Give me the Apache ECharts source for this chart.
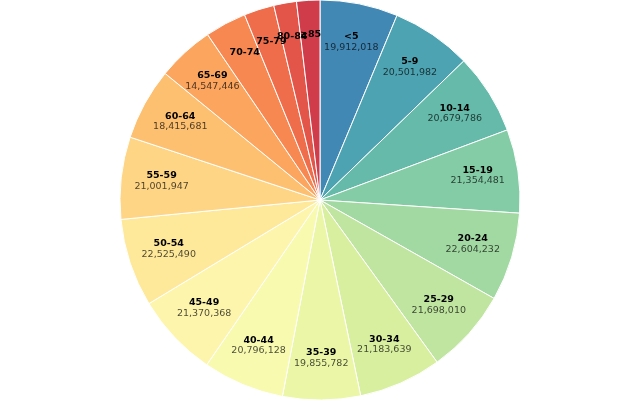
<!DOCTYPE html>
<html>
<head>
<meta charset="utf-8">
<script src="https://cdn.jsdelivr.net/npm/echarts@6/dist/echarts.min.js"></script>
<style>
  html, body { margin: 0; padding: 0; background: #fff; }
  #main { width: 640px; height: 400px; }
</style>
</head>
<body>
<div id="main"></div>
<script>
// population by age group
var ageGroups = ["<5", "5-9", "10-14", "15-19", "20-24", "25-29", "30-34", "35-39", "40-44",
  "45-49", "50-54", "55-59", "60-64", "65-69", "70-74", "75-79", "80-84", "≥85"];
var population = [19912018, 20501982, 20679786, 21354481, 22604232, 21698010, 21183639, 19855782, 20796128,
  21370368, 22525490, 21001947, 18415681, 14547446, 10587721, 7730129, 5811429, 5938752];

// spectral ramp, basis-interpolated like d3
var spectral = ["9e0142", "d53e4f", "f46d43", "fdae61", "fee08b", "ffffbf", "e6f598", "abdda4", "66c2a5", "3288bd", "5e4fa2"];

function basis(t1, v0, v1, v2, v3) {
  var t2 = t1 * t1, t3 = t2 * t1;
  return ((1 - 3 * t1 + 3 * t2 - t3) * v0 + (4 - 6 * t2 + 3 * t3) * v1
    + (1 + 3 * t1 + 3 * t2 - 3 * t3) * v2 + t3 * v3) / 6;
}
function channel(values, t) {
  var n = values.length - 1;
  var i = t <= 0 ? (t = 0) : t >= 1 ? (t = 1, n - 1) : Math.floor(t * n);
  var v1 = values[i], v2 = values[i + 1];
  var v0 = i > 0 ? values[i - 1] : 2 * v1 - v2;
  var v3 = i < n - 1 ? values[i + 2] : 2 * v2 - v1;
  return basis((t - i / n) * n, v0, v1, v2, v3);
}
function spectralAt(t) {
  var rgb = [0, 1, 2].map(function (c) {
    var vals = spectral.map(function (h) { return parseInt(h.substr(c * 2, 2), 16); });
    return Math.max(0, Math.min(255, Math.round(channel(vals, t))));
  });
  return "rgb(" + rgb.join(",") + ")";
}

var n = ageGroups.length;
var colors = [];
for (var i = 0; i < n; i++) colors.push(spectralAt((i / (n - 1)) * 0.8 + 0.1));
colors.reverse();

var total = population.reduce(function (a, b) { return a + b; }, 0);

var pieData = ageGroups.map(function (name, i) {
  return { name: name, value: population[i], itemStyle: { color: colors[i] } };
});

var chart = echarts.init(document.getElementById('main'));
chart.setOption({
  animation: false,
  series: [
    {
      type: 'pie',
      center: ['50%', '50%'],
      radius: ['0%', '100%'],
      startAngle: 90,
      clockwise: true,
      silent: true,
      label: { show: false },
      labelLine: { show: false },
      itemStyle: { borderColor: '#fff', borderWidth: 1 },
      data: pieData
    },
    {
      // invisible ring, only there to put the labels at ~80% of the radius
      type: 'pie',
      center: ['50%', '50%'],
      radius: ['56.4%', '100%'],
      startAngle: 90,
      clockwise: true,
      silent: true,
      itemStyle: { color: 'rgba(0,0,0,0)', borderWidth: 0 },
      labelLine: { show: false },
      labelLayout: { hideOverlap: false },
      label: {
        show: true,
        position: 'inside',
        offset: [0, -1.5],
        formatter: function (p) {
          var ang = p.value / total * Math.PI * 2;
          var v = ang > 0.25 ? p.value.toLocaleString('en-US') : ' ';
          return '{n|' + p.name + '}\n{v|' + v + '}';
        },
        rich: {
          n: { fontFamily: 'DejaVu Sans', fontSize: 9.5, fontWeight: 'bold', color: '#000', lineHeight: 10.5 },
          v: { fontFamily: 'DejaVu Sans', fontSize: 9.5, color: 'rgba(0,0,0,0.7)', lineHeight: 10.5 }
        }
      },
      data: ageGroups.map(function (name, i) { return { name: name, value: population[i] }; })
    }
  ]
});
</script>
</body>
</html>
